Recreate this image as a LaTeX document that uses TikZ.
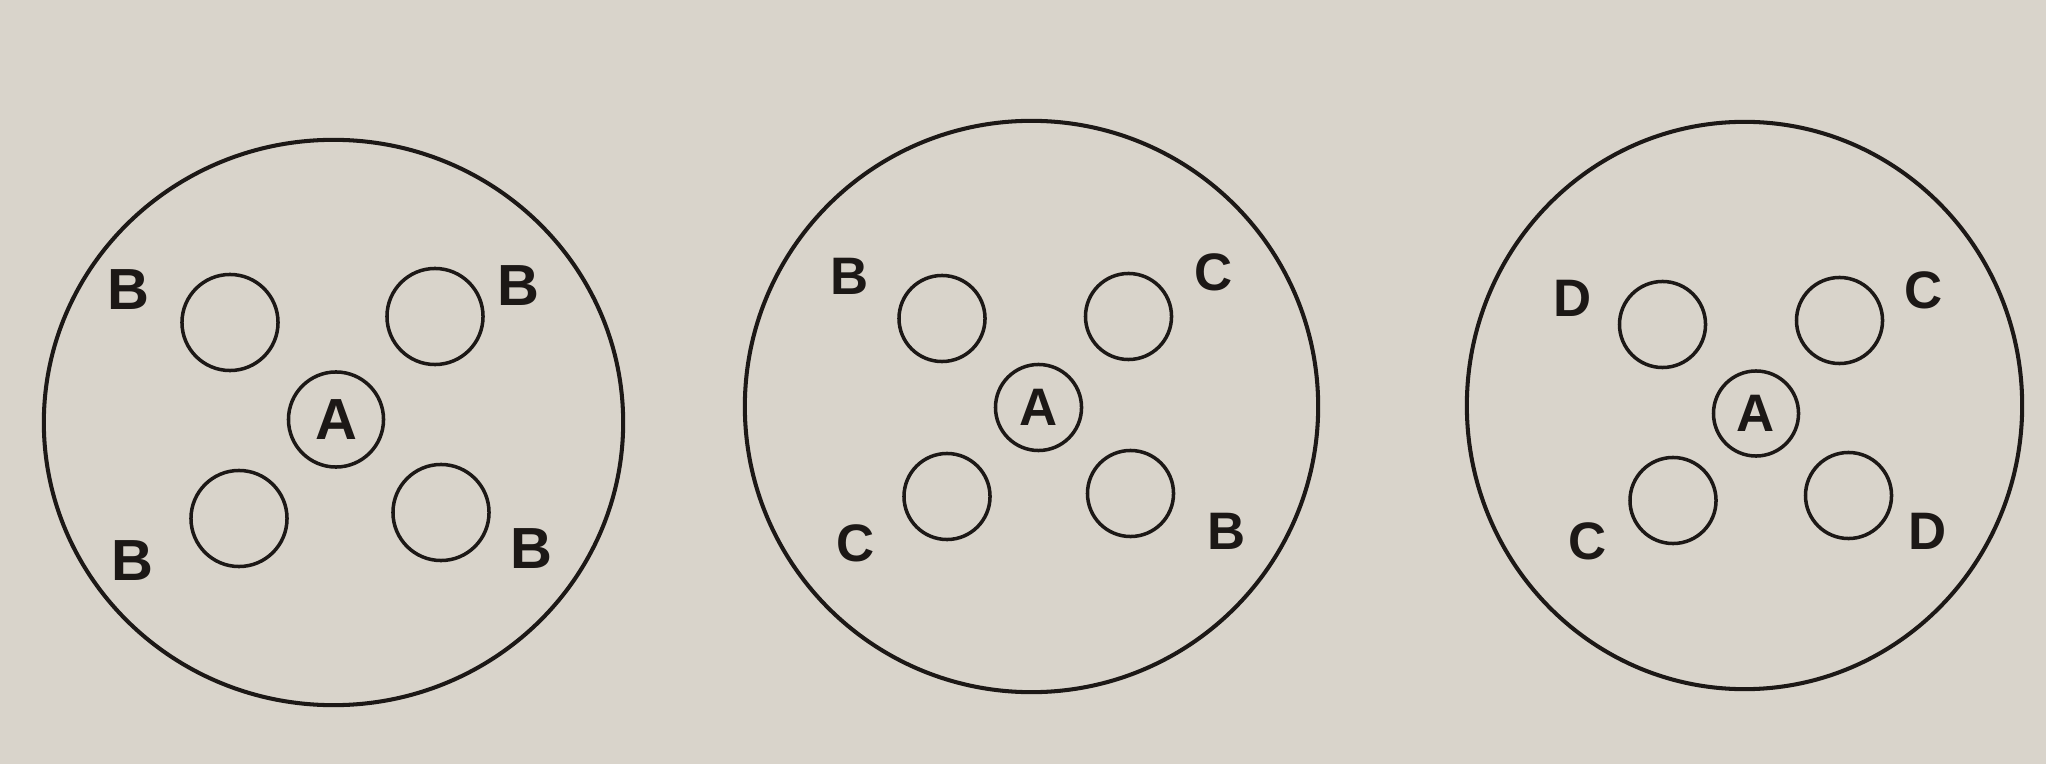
\documentclass[tikz,border=0pt]{standalone}
\usepackage{fontspec}
\setsansfont{Liberation Sans}
\usepackage{tikz}
\usetikzlibrary{positioning,shapes.geometric}
\definecolor{paper}{RGB}{217,212,203}
\definecolor{ink}{RGB}{28,24,22}
\tikzset{
  plate/.style={draw=ink,ellipse,line width=1.15pt,inner sep=0pt},
  well/.style={draw=ink,circle,line width=1pt,inner sep=0pt,text=ink},
  lbl/.style={text=ink,inner sep=0pt,font=\sffamily\bfseries\fontsize{#1}{#1}\selectfont},
  lbl/.default=15,
  every node/.style={font=\sffamily\bfseries\fontsize{15}{15}\selectfont}
}

\begin{document}
\begin{tikzpicture}[x=0.01cm,y=-0.01cm]
  % paper
  \fill[paper] (0,0) rectangle (2046,764);
  \useasboundingbox (0,0) rectangle (2046,764);
  % plate 1: B all round
  \node[plate,minimum width=5.79cm,minimum height=5.65cm] (p1) at (333.5,422.5) {};
  \node[well,minimum size=0.95cm,font=\sffamily\bfseries\fontsize{16.5}{16.5}\selectfont] (p1a) at (336,419.5) {A};
  \foreach \n/\x/\y in {tl/230/322.5,tr/435/316.5,bl/239/518.5,br/441/512.5}
    \node[well,minimum size=0.96cm] (p1\n) at (\x,\y) {};
  \foreach \n/\x/\y/\L in {tl/128/290/B,tr/518/286/B,bl/132/561/B,br/531/549/B}
    \node[lbl=16.5] (p1l\n) at (\x,\y) {\L};
  % plate 2: B and C crossed
  \node[plate,minimum width=5.73cm,minimum height=5.71cm] (p2) at (1031.5,406.5) {};
  \node[well,minimum size=0.86cm] (p2a) at (1038.5,407.5) {A};
  \foreach \n/\x/\y in {tl/942/318.5,tr/1128.5/316.5,bl/947/496.5,br/1130.5/493.5}
    \node[well,minimum size=0.86cm] (p2\n) at (\x,\y) {};
  \foreach \n/\x/\y/\L in {tl/850/276/B,tr/1214/272/C,bl/856/543/C,br/1227/531/B}
    \node[lbl] (p2l\n) at (\x,\y) {\L};
  % plate 3: C and D crossed
  \node[plate,minimum width=5.55cm,minimum height=5.67cm] (p3) at (1744.5,405.5) {};
  \node[well,minimum size=0.85cm] (p3a) at (1756,413.5) {A};
  \foreach \n/\x/\y in {tl/1662.5/324.5,tr/1839.5/320.5,bl/1673/500.5,br/1848.5/495.5}
    \node[well,minimum size=0.86cm] (p3\n) at (\x,\y) {};
  \foreach \n/\x/\y/\L in {tl/1573/298/D,tr/1924/290/C,bl/1588/541/C,br/1928/531/D}
    \node[lbl] (p3l\n) at (\x,\y) {\L};
\end{tikzpicture}
\end{document}
